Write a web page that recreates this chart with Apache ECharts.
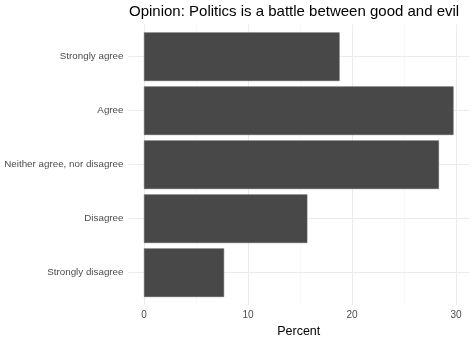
<!DOCTYPE html>
<html>
<head>
<meta charset="utf-8">
<script src="https://cdn.jsdelivr.net/npm/echarts@6/dist/echarts.min.js"></script>
<style>
  html, body { margin: 0; padding: 0; background: #fff; }
  #chart { width: 474px; height: 338px; }
</style>
</head>
<body>
<div id="chart"></div>
<script>
// Survey responses, top to bottom
const categories = ['Strongly agree', 'Agree', 'Neither agree, nor disagree', 'Disagree', 'Strongly disagree'];
const percents = [18.8, 29.75, 28.35, 15.7, 7.7];
const majorTicks = [0, 10, 20, 30];
const minorTicks = [5, 15, 25];

// x range padded by 5% of the data range on each side
const xMax = Math.max(...percents);
const pad = xMax * 0.05;
const xMin = -pad, xLim = xMax + pad;

const panel = { left: 128.5, right: 5, top: 24.3, bottom: 33 };
const barGrid = { left: 128.5, right: 5, top: 56.7, bottom: 65.3 };

const chart = echarts.init(document.getElementById('chart'), null, { renderer: 'canvas' });
chart.setOption({
  animation: false,
  backgroundColor: '#ffffff',
  title: {
    text: 'Opinion: Politics is a battle between good and evil',
    left: 124, top: -1,
    textStyle: { fontFamily: 'Liberation Sans', fontSize: 15, fontWeight: 'normal', color: '#000' }
  },
  grid: [
    Object.assign({ containLabel: false, outerBoundsMode: 'none' }, panel),
    Object.assign({ containLabel: false, outerBoundsMode: 'none' }, barGrid)
  ],
  xAxis: [
    {
      type: 'value', gridIndex: 0, min: xMin, max: xLim,
      axisLine: { show: false },
      axisTick: { show: false, customValues: majorTicks },
      axisLabel: {
        customValues: majorTicks, margin: 5,
        fontFamily: 'Liberation Sans', fontSize: 10, color: '#4d4d4d'
      },
      splitLine: { show: true, lineStyle: { color: '#ebebeb', width: 1 } },
      name: 'Percent', nameLocation: 'middle', nameGap: 14,
      nameTextStyle: { fontFamily: 'Liberation Sans', fontSize: 12.5, color: '#000', verticalAlign: 'top' }
    },
    {
      type: 'value', gridIndex: 0, min: xMin, max: xLim,
      axisLine: { show: false },
      axisTick: { show: false, customValues: minorTicks },
      axisLabel: { show: false, customValues: minorTicks },
      splitLine: { show: true, lineStyle: { color: '#f3f3f3', width: 0.6 } }
    },
    {
      type: 'value', gridIndex: 1, min: xMin, max: xLim,
      show: false,
      splitLine: { show: false }
    }
  ],
  yAxis: [
    { type: 'value', gridIndex: 0, show: false, splitLine: { show: false } },
    {
      type: 'category', gridIndex: 1, data: categories, inverse: true,
      boundaryGap: false,
      axisLine: { show: false },
      axisTick: { show: false },
      axisLabel: { margin: 5, fontFamily: 'Liberation Sans', fontSize: 9.8, color: '#4d4d4d' },
      splitLine: { show: true, lineStyle: { color: '#ebebeb', width: 1 } }
    }
  ],
  series: [{
    type: 'bar',
    xAxisIndex: 2, yAxisIndex: 1,
    data: percents,
    barWidth: 48.6,
    clip: false,
    itemStyle: { color: '#484848', borderColor: '#5c5c5c', borderWidth: 0.6 },
    silent: true
  }]
});
</script>
</body>
</html>
